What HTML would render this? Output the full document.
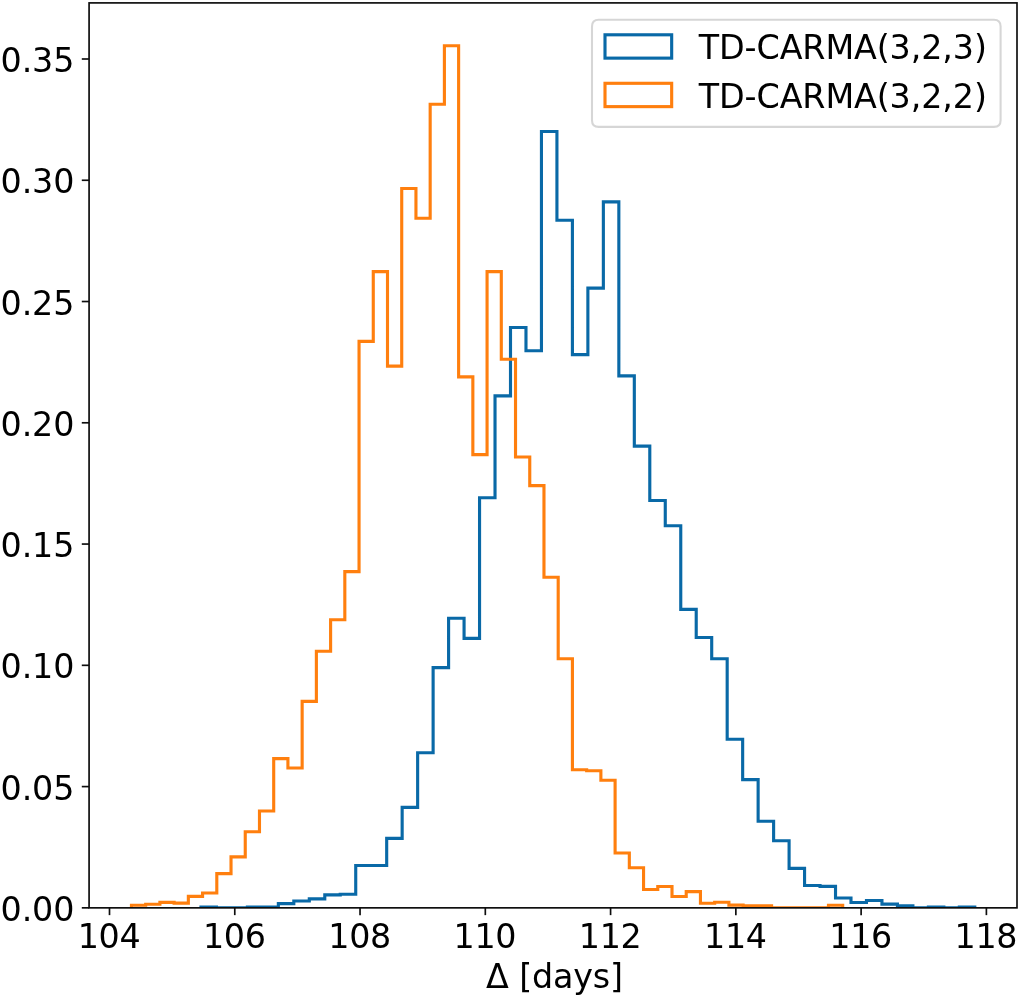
<!DOCTYPE html>
<html lang="en"><head><meta charset="utf-8"><title>TD-CARMA histogram</title>
<style>
html,body{margin:0;padding:0;background:#fff;}
body{width:1020px;height:997px;overflow:hidden;}
svg{display:block;}
text{font-family:"DejaVu Sans","Liberation Sans",sans-serif;font-size:33.33px;fill:#000;}
</style></head><body>
<svg width="1020" height="997" viewBox="0 0 1020 997">
<rect x="0" y="0" width="1020" height="997" fill="#fff"/>
<defs><clipPath id="ax"><rect x="89.08" y="2.9" width="927.92" height="904.95"/></clipPath></defs>
<g fill="none" stroke-width="3.125" stroke-linejoin="miter" stroke-linecap="butt" clip-path="url(#ax)">
<path stroke="#0969a7" d="M200.96 907.85 L200.96 907.10 L216.44 907.10 L216.44 907.85 L231.91 907.85 L231.91 907.85 L247.39 907.85 L247.39 907.10 L262.87 907.10 L262.87 907.10 L278.35 907.10 L278.35 903.60 L293.82 903.60 L293.82 901.00 L309.30 901.00 L309.30 898.90 L324.78 898.90 L324.78 894.90 L340.25 894.90 L340.25 894.20 L355.73 894.20 L355.73 865.50 L371.21 865.50 L371.21 865.50 L386.68 865.50 L386.68 838.40 L402.16 838.40 L402.16 807.40 L417.64 807.40 L417.64 752.80 L433.12 752.80 L433.12 667.60 L448.59 667.60 L448.59 618.20 L464.07 618.20 L464.07 638.40 L479.55 638.40 L479.55 497.80 L495.02 497.80 L495.02 395.90 L510.50 395.90 L510.50 327.50 L525.98 327.50 L525.98 350.80 L541.45 350.80 L541.45 131.50 L556.93 131.50 L556.93 220.30 L572.41 220.30 L572.41 354.60 L587.88 354.60 L587.88 288.10 L603.36 288.10 L603.36 201.90 L618.84 201.90 L618.84 375.90 L634.32 375.90 L634.32 446.10 L649.79 446.10 L649.79 500.50 L665.27 500.50 L665.27 525.80 L680.75 525.80 L680.75 609.40 L696.22 609.40 L696.22 637.50 L711.70 637.50 L711.70 658.80 L727.18 658.80 L727.18 739.30 L742.66 739.30 L742.66 779.60 L758.13 779.60 L758.13 821.30 L773.61 821.30 L773.61 840.70 L789.09 840.70 L789.09 868.40 L804.56 868.40 L804.56 885.50 L820.04 885.50 L820.04 886.40 L835.52 886.40 L835.52 898.00 L850.99 898.00 L850.99 902.50 L866.47 902.50 L866.47 900.50 L881.95 900.50 L881.95 904.10 L897.43 904.10 L897.43 905.80 L912.90 905.80 L912.90 907.85 L928.38 907.85 L928.38 907.10 L943.86 907.10 L943.86 907.85 L959.33 907.85 L959.33 907.10 L974.81 907.10 L974.81 907.85"/>
<path stroke="#ff7f0e" d="M131.45 907.85 L131.45 905.30 L145.67 905.30 L145.67 904.30 L159.90 904.30 L159.90 902.40 L174.12 902.40 L174.12 903.10 L188.35 903.10 L188.35 896.40 L202.57 896.40 L202.57 893.00 L216.80 893.00 L216.80 873.60 L231.02 873.60 L231.02 856.90 L245.25 856.90 L245.25 831.80 L259.48 831.80 L259.48 811.00 L273.70 811.00 L273.70 758.60 L287.92 758.60 L287.92 768.00 L302.15 768.00 L302.15 701.40 L316.38 701.40 L316.38 651.20 L330.60 651.20 L330.60 619.70 L344.82 619.70 L344.82 571.60 L359.05 571.60 L359.05 341.40 L373.27 341.40 L373.27 271.60 L387.50 271.60 L387.50 366.10 L401.72 366.10 L401.72 188.50 L415.95 188.50 L415.95 218.30 L430.17 218.30 L430.17 104.30 L444.40 104.30 L444.40 45.70 L458.62 45.70 L458.62 376.90 L472.85 376.90 L472.85 454.60 L487.07 454.60 L487.07 271.60 L501.30 271.60 L501.30 359.30 L515.52 359.30 L515.52 457.00 L529.75 457.00 L529.75 485.60 L543.97 485.60 L543.97 577.30 L558.20 577.30 L558.20 658.70 L572.42 658.70 L572.42 769.80 L586.65 769.80 L586.65 770.80 L600.88 770.80 L600.88 780.30 L615.10 780.30 L615.10 853.00 L629.33 853.00 L629.33 867.80 L643.55 867.80 L643.55 889.50 L657.77 889.50 L657.77 886.50 L672.00 886.50 L672.00 896.50 L686.22 896.50 L686.22 891.60 L700.45 891.60 L700.45 903.20 L714.67 903.20 L714.67 902.20 L728.90 902.20 L728.90 905.10 L743.12 905.10 L743.12 905.80 L757.35 905.80 L757.35 905.80 L771.58 905.80 L771.58 907.85 L785.80 907.85 L785.80 907.85 L800.02 907.85 L800.02 907.85 L814.25 907.85 L814.25 907.85 L828.47 907.85 L828.47 905.20 L842.70 905.20 L842.70 907.85"/>
</g>
<g stroke="#0d0d0d" stroke-width="1.67" fill="none" stroke-linecap="butt">
<rect x="89.08" y="2.9" width="927.92" height="904.95" stroke-linejoin="miter"/>
<line x1="81.79" y1="907.85" x2="89.08" y2="907.85"/>
<line x1="81.79" y1="786.59" x2="89.08" y2="786.59"/>
<line x1="81.79" y1="665.32" x2="89.08" y2="665.32"/>
<line x1="81.79" y1="544.06" x2="89.08" y2="544.06"/>
<line x1="81.79" y1="422.79" x2="89.08" y2="422.79"/>
<line x1="81.79" y1="301.52" x2="89.08" y2="301.52"/>
<line x1="81.79" y1="180.26" x2="89.08" y2="180.26"/>
<line x1="81.79" y1="59.00" x2="89.08" y2="59.00"/>
<line x1="109.50" y1="907.85" x2="109.50" y2="915.14"/>
<line x1="234.77" y1="907.85" x2="234.77" y2="915.14"/>
<line x1="360.04" y1="907.85" x2="360.04" y2="915.14"/>
<line x1="485.31" y1="907.85" x2="485.31" y2="915.14"/>
<line x1="610.58" y1="907.85" x2="610.58" y2="915.14"/>
<line x1="735.85" y1="907.85" x2="735.85" y2="915.14"/>
<line x1="861.12" y1="907.85" x2="861.12" y2="915.14"/>
<line x1="986.39" y1="907.85" x2="986.39" y2="915.14"/>
</g>
<g>
<text x="74.4" y="921" text-anchor="end" textLength="73.8" lengthAdjust="spacing">0.00</text>
<text x="74.4" y="800" text-anchor="end" textLength="73.8" lengthAdjust="spacing">0.05</text>
<text x="74.4" y="678" text-anchor="end" textLength="73.8" lengthAdjust="spacing">0.10</text>
<text x="74.4" y="557" text-anchor="end" textLength="73.8" lengthAdjust="spacing">0.15</text>
<text x="74.4" y="436" text-anchor="end" textLength="73.8" lengthAdjust="spacing">0.20</text>
<text x="74.4" y="315" text-anchor="end" textLength="73.8" lengthAdjust="spacing">0.25</text>
<text x="74.4" y="193" text-anchor="end" textLength="73.8" lengthAdjust="spacing">0.30</text>
<text x="74.4" y="72" text-anchor="end" textLength="73.8" lengthAdjust="spacing">0.35</text>
<text x="109.20" y="948.1" text-anchor="middle" textLength="63.0" lengthAdjust="spacing">104</text>
<text x="234.47" y="948.1" text-anchor="middle" textLength="63.0" lengthAdjust="spacing">106</text>
<text x="359.74" y="948.1" text-anchor="middle" textLength="63.0" lengthAdjust="spacing">108</text>
<text x="485.01" y="948.1" text-anchor="middle" textLength="63.0" lengthAdjust="spacing">110</text>
<text x="610.28" y="948.1" text-anchor="middle" textLength="63.0" lengthAdjust="spacing">112</text>
<text x="735.55" y="948.1" text-anchor="middle" textLength="63.0" lengthAdjust="spacing">114</text>
<text x="860.82" y="948.1" text-anchor="middle" textLength="63.0" lengthAdjust="spacing">116</text>
<text x="986.09" y="948.1" text-anchor="middle" textLength="63.0" lengthAdjust="spacing">118</text>
<text x="554.54" y="988.2" text-anchor="middle" textLength="136.9" lengthAdjust="spacing">Δ [days]</text>
</g>
<g>
<path d="M598.67 19.8 L993.9300000000001 19.8 Q1000.6 19.8 1000.6 26.47 L1000.6 120.23 Q1000.6 126.9 993.9300000000001 126.9 L598.67 126.9 Q592.0 126.9 592.0 120.23 L592.0 26.47 Q592.0 19.8 598.67 19.8 Z" fill="#fff" fill-opacity="0.8" stroke="#ccc" stroke-opacity="0.8" stroke-width="2.08"/>
<rect x="605.0" y="34.8" width="66.67" height="23.33" fill="none" stroke="#0969a7" stroke-width="3.125"/>
<rect x="605.0" y="83.3" width="66.67" height="23.33" fill="none" stroke="#ff7f0e" stroke-width="3.125"/>
<text x="698.8" y="59.0" textLength="288.1" lengthAdjust="spacing">TD-CARMA(3,2,3)</text>
<text x="698.8" y="107.5" textLength="288.1" lengthAdjust="spacing">TD-CARMA(3,2,2)</text>
</g>
</svg>
</body></html>
